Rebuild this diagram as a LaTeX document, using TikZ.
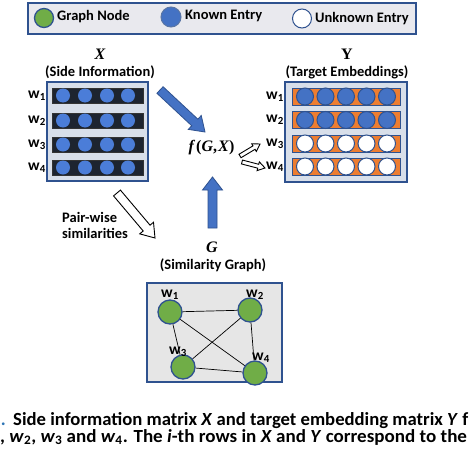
\documentclass[tikz,border=0pt]{standalone}
\usepackage{fontspec}
\usepackage{graphicx}
\setmainfont{Carlito}
\newfontfamily\serifb{Liberation Serif}
\usetikzlibrary{calc}

\definecolor{nodeblue}{HTML}{4472C4}
\definecolor{edgeblue}{HTML}{2F528F}
\definecolor{orangefill}{HTML}{ED7D31}
\definecolor{greenfill}{HTML}{70AD47}
\definecolor{legendbg}{HTML}{E9E9EE}
\definecolor{matbg}{HTML}{D8DFEA}
\definecolor{graphbg}{HTML}{E6E6E6}
\definecolor{darkrow}{HTML}{1D2430}
\definecolor{xdot}{HTML}{4B7DD8}
\definecolor{capblue}{HTML}{2E75B6}

% #1 style, #2 tail, #3 tip, #4 shaft half width, #5 head half width, #6 head length
\newcommand\blockarrow[6]{%
  \coordinate (bahead) at ($(#3)!#6!(#2)$);
  \path[#1] ($(#2)!#4!90:(#3)$) -- ($(bahead)!#4!90:(#3)$) -- ($(bahead)!#5!90:(#3)$)
     -- (#3) -- ($(bahead)!#5!-90:(#3)$) -- ($(bahead)!#4!-90:(#3)$)
     -- ($(#2)!#4!-90:(#3)$) -- cycle;
}

\tikzset{
  txt/.style={font=\fontsize{14.5}{16}\selectfont\bfseries, inner sep=0pt},
  mathlab/.style={font=\fontsize{16}{18}\selectfont\serifb\bfseries, inner sep=0pt},
  wlab/.style={font=\fontsize{15.5}{16}\selectfont\bfseries, inner sep=0pt},
  legendbox/.style={draw=edgeblue, fill=legendbg, line width=1.2pt},
  matbox/.style={draw=edgeblue, fill=matbg, line width=1.2pt},
  graphbox/.style={draw=edgeblue, fill=graphbg, line width=1.2pt},
  xrow/.style={fill=darkrow, draw=black!80, line width=0.4pt, minimum width=91pt, minimum height=15pt, inner sep=0pt},
  yrow/.style={fill=orangefill, draw=edgeblue, line width=1pt, minimum width=108pt, minimum height=17pt, inner sep=0pt},
  xdotst/.style={circle, fill=xdot, minimum size=14pt, inner sep=0pt},
  knownst/.style={circle, fill=nodeblue, draw=edgeblue, line width=1pt, minimum size=17pt, inner sep=0pt},
  unknownst/.style={circle, fill=white, draw=edgeblue, line width=1pt, minimum size=17pt, inner sep=0pt},
  gnode/.style={circle, fill=greenfill, draw=edgeblue, line width=1.3pt, minimum size=24pt, inner sep=0pt},
  blueblock/.style={fill=nodeblue, draw=edgeblue, line width=0.8pt},
  whiteblock/.style={fill=white, draw=black, line width=0.9pt},
  edge/.style={draw=black, line width=0.7pt},
  captxt/.style={font=\fontsize{18.5}{18}\selectfont\bfseries, inner sep=0pt, anchor=base west},
}

\begin{document}
\begin{tikzpicture}[x=1pt,y=-1pt]
\clip (0,0) rectangle (474,450);
\fill[white] (0,0) rectangle (474,450);

% legend
\node[legendbox, minimum width=388pt, minimum height=31pt, inner sep=0pt] (legend) at (222,18.5) {};
\node[gnode, minimum size=19pt] (lg) at (44,18) {};
\node[txt, anchor=west] (lgt) at (57,17) {Graph Node};
\node[knownst, minimum size=20pt, draw=edgeblue!80] (lk) at (171,17) {};
\node[txt, anchor=west] (lkt) at (185,16) {Known Entry};
\node[unknownst, minimum size=19pt] (lu) at (302,18.5) {};
\node[txt, anchor=west] (lut) at (315,19) {Unknown Entry};

% X matrix
\node[mathlab] (xlab) at (100,54) {\itshape X};
\node[txt] (xsub) at (100,72) {(Side Information)};
\node[matbox, minimum width=101pt, minimum height=99pt, inner sep=0pt] (xbox) at (97.5,131.5) {};
\foreach \r/\y in {1/95.5,2/120.5,3/144.5,4/167.5}{
  \node[xrow] (xr\r) at (97.5,\y) {};
  \foreach \c/\x in {1/63,2/85,3/107,4/128}
    \node[xdotst] (x\r\c) at (\x,\y) {};
  \node[wlab] (xw\r) at (37,\y) {w\textsubscript{\r}};
}

% Y matrix
\node[mathlab] (ylab) at (347,54) {Y};
\node[txt] (ysub) at (347,72) {(Target Embeddings)};
\node[matbox, minimum width=122pt, minimum height=100pt, inner sep=0pt] (ybox) at (346,132) {};
\foreach \r/\y/\st in {1/96.5/knownst,2/120/knownst,3/143.5/unknownst,4/166.5/unknownst}{
  \node[yrow] (yr\r) at (346,\y) {};
  \foreach \c/\x in {1/305,2/325.5,3/346,4/366.5,5/387}
    \node[\st] (y\r\c) at (\x,\y) {};
  \node[wlab] (yw\r) at (275,\y) {w\textsubscript{\r}};
}

% f(G,X)
\node[mathlab] (f) at (211.5,148) {\textit{f}\kern1pt(\textit{G},\kern1pt\textit{X})};

% block arrows
\coordinate (a1s) at (160,90);
\coordinate (a1e) at (205,132);
\blockarrow{blueblock}{a1s}{a1e}{4.5pt}{9.5pt}{14pt}
\coordinate (a2s) at (212.5,228);
\coordinate (a2e) at (212.5,177);
\blockarrow{blueblock}{a2s}{a2e}{4.5pt}{10pt}{13pt}
\coordinate (a3s) at (117,193);
\coordinate (a3e) at (155,238);
\blockarrow{whiteblock}{a3s}{a3e}{4.5pt}{9pt}{13pt}
\coordinate (a4s) at (240,156);
\coordinate (a4e) at (260,144);
\blockarrow{whiteblock}{a4s}{a4e}{2pt}{4.5pt}{7pt}
\coordinate (a5s) at (242,162);
\coordinate (a5e) at (265,168);
\blockarrow{whiteblock}{a5s}{a5e}{2pt}{4.5pt}{7pt}

% pair-wise text
\node[txt, anchor=west] (pw1) at (62,217) {Pair-wise};
\node[txt, anchor=west] (pw2) at (62,233) {similarities};

% G
\node[mathlab] (glab) at (212,247) {\itshape G};
\node[txt] (gsub) at (213,265) {(Similarity Graph)};

% graph
\node[graphbox, minimum width=135pt, minimum height=99pt, inner sep=0pt] (gbox) at (214.5,332.5) {};
\node[gnode] (g1) at (170,312) {};
\node[gnode] (g2) at (250,310) {};
\node[gnode] (g3) at (183,367) {};
\node[gnode] (g4) at (255,373) {};
\node[wlab] (gl1) at (170,295) {w\textsubscript{1}};
\node[wlab] (gl2) at (255,295) {w\textsubscript{2}};
\node[wlab] (gl3) at (178,352) {w\textsubscript{3}};
\node[wlab] (gl4) at (261,358) {w\textsubscript{4}};
\draw[edge] (g1) -- (g2);
\draw[edge] (g1) -- (g3);
\draw[edge] (g1) -- (g4);
\draw[edge] (g2) -- (g3);
\draw[edge] (g2) -- (g4);
\draw[edge] (g3) -- (g4);

% caption
\node[captxt, text=capblue, anchor=base east] (cap0) at (6,425) {.};
\node[captxt] (cap1) at (13,425) {\scalebox{1.01}[1]{Side information matrix \textit{X} and target embedding matrix \textit{Y} f}};
\node[captxt] (cap2) at (0,442) {\scalebox{1.03}[1]{, \textit{w}\textsubscript{2}, \textit{w}\textsubscript{3} and \textit{w}\textsubscript{4}. The \textit{i}-th rows in \textit{X} and \textit{Y} correspond to the}};
\end{tikzpicture}
\end{document}
